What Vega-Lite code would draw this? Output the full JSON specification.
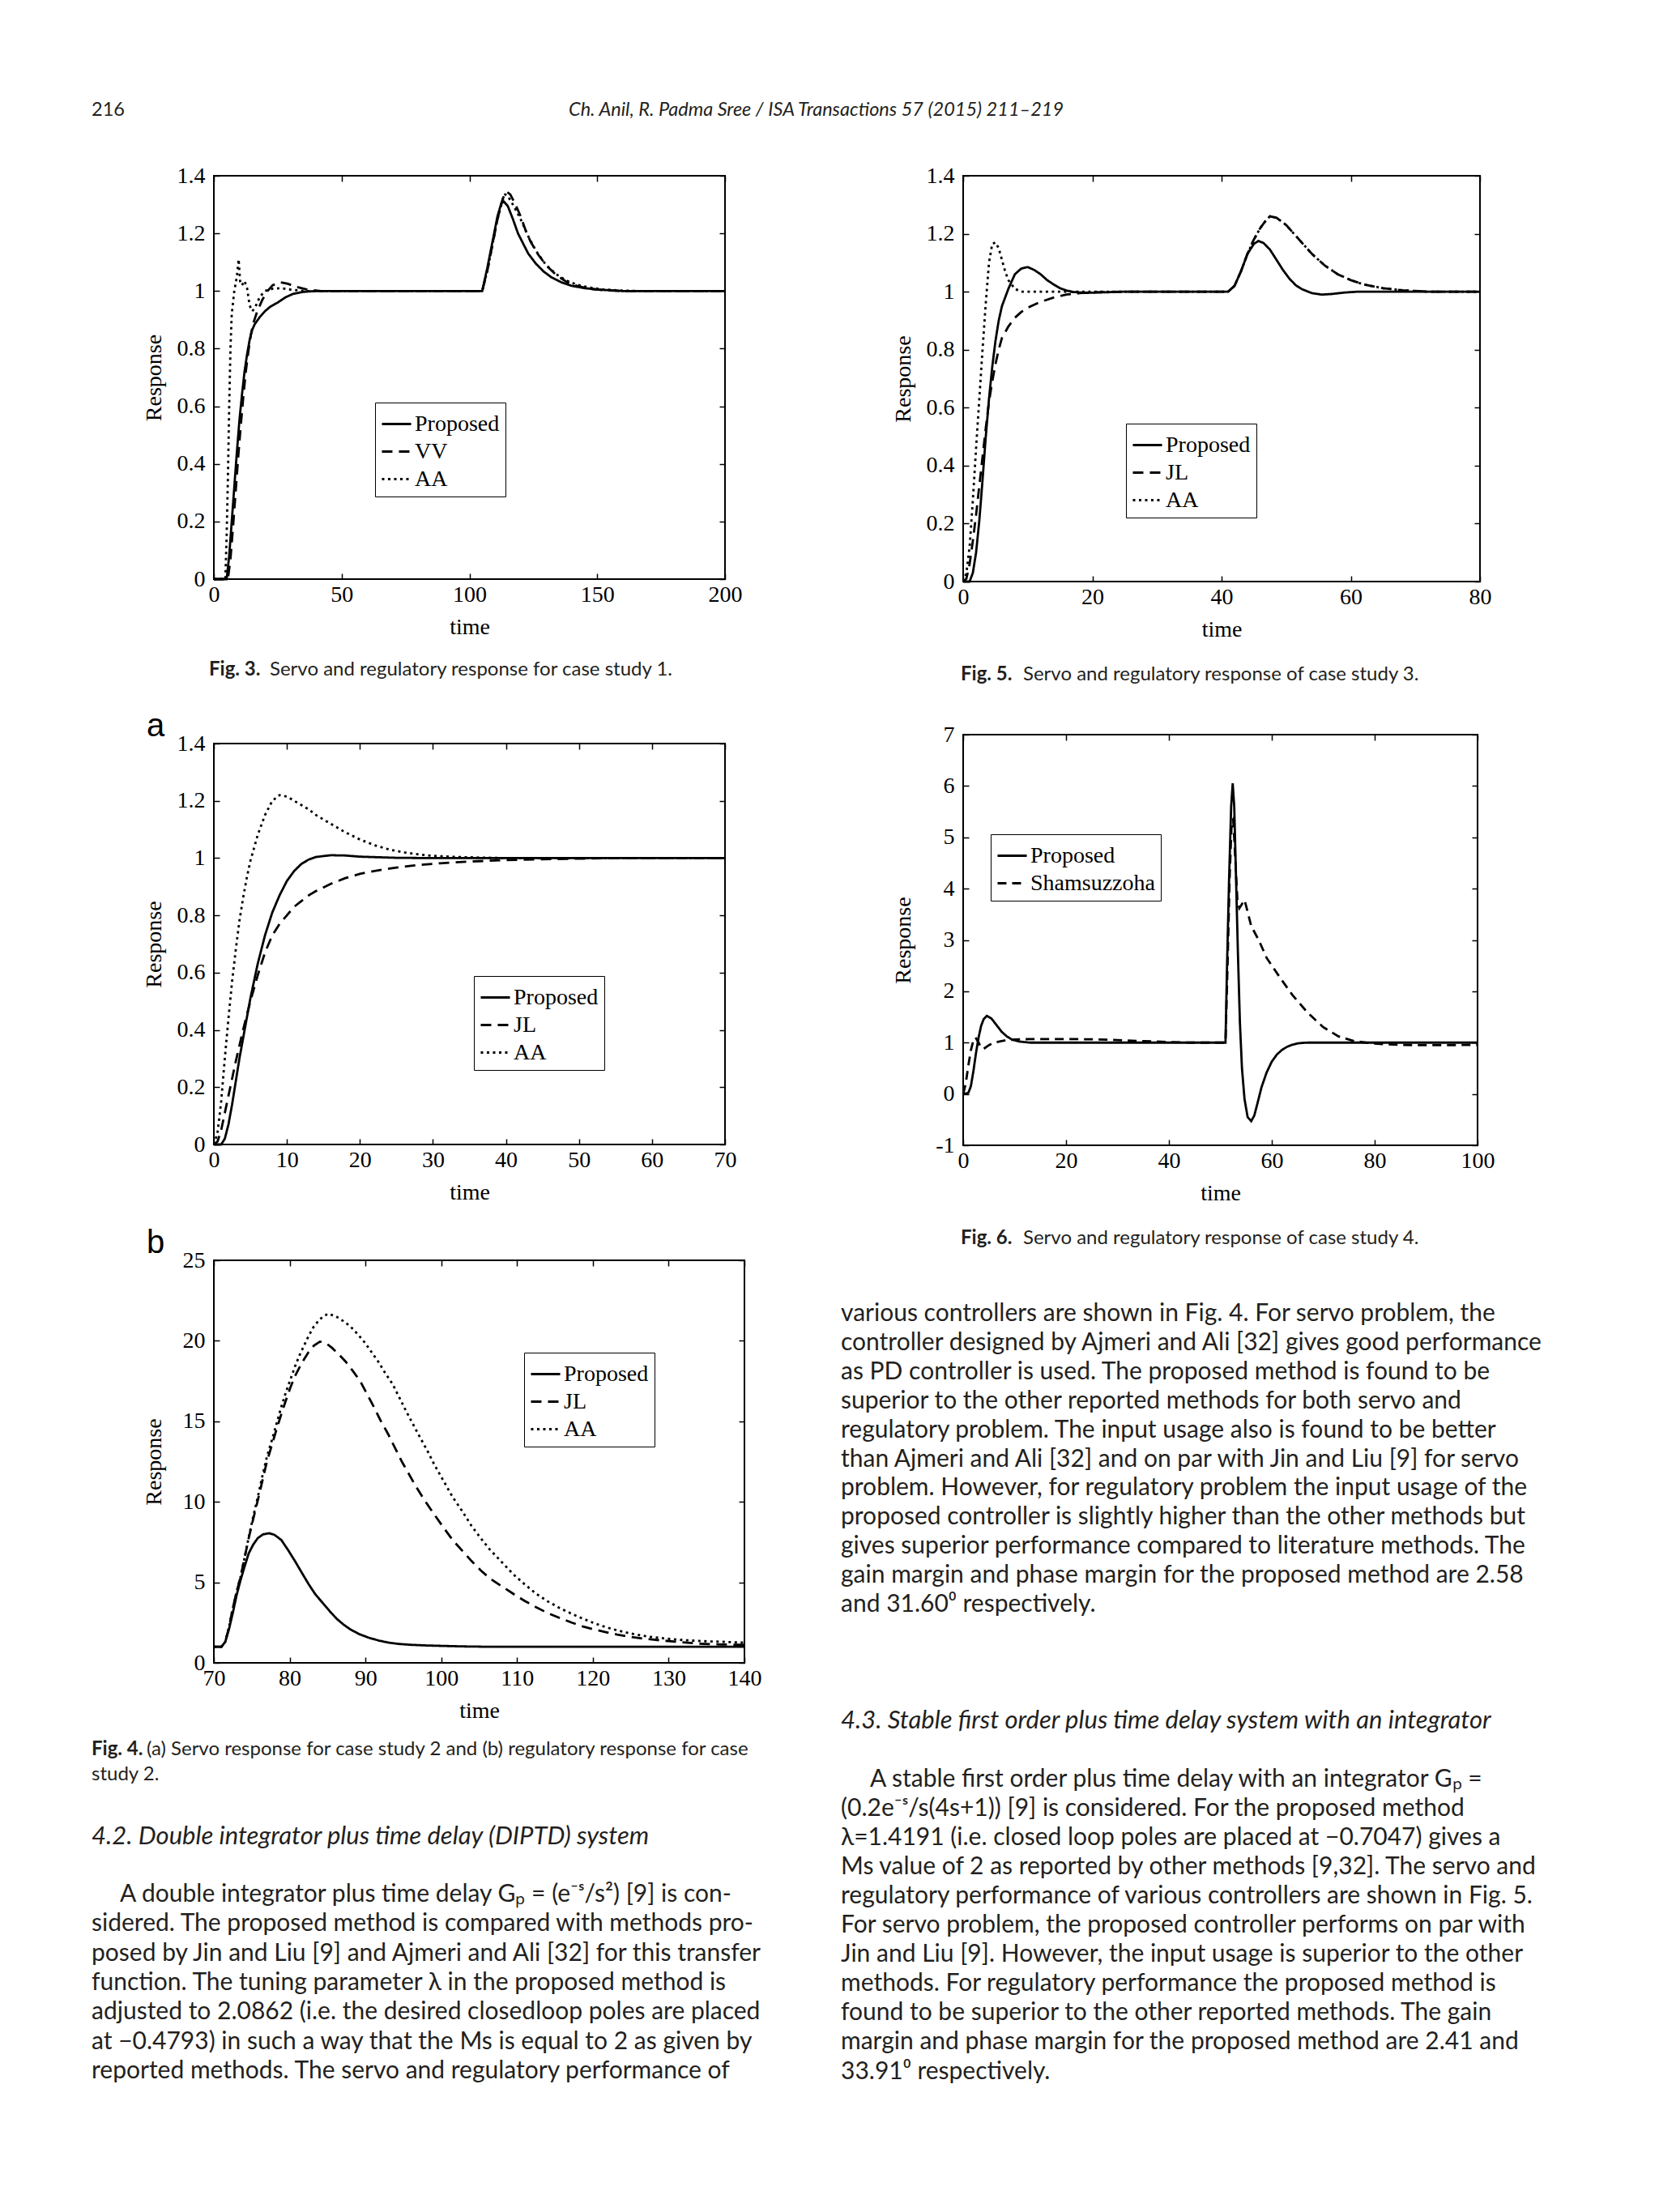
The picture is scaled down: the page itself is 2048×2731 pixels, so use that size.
{
"$schema": "https://vega.github.io/schema/vega-lite/v6.json",
"background": "white",
"padding": {"left": 113, "top": 123, "right": 20, "bottom": 20},
"config": {
 "view": {"stroke": null},
 "font": "Liberation Serif",
 "line": {"color": "black", "strokeWidth": 2.8},
 "axis": {"labelFont": "Liberation Serif", "labelFontSize": 28, "labelColor": "black", "titleFont": "Liberation Serif", "titleFontSize": 28, "titleFontWeight": "normal", "titleColor": "black", "tickColor": "black", "tickSize": -7, "tickWidth": 1.5, "domain": false, "grid": false, "labelFlush": false, "labelOverlap": false, "labelExpr": "'' + datum.value"},
 "axisX": {"labelPadding": 12, "titlePadding": 12},
 "axisY": {"labelPadding": 18, "titlePadding": 14, "minExtent": 46, "maxExtent": 46},
 "legend": {"labelFont": "Liberation Serif", "labelFontSize": 28, "labelColor": "black", "symbolType": "stroke", "symbolSize": 1300, "symbolStrokeWidth": 2.5, "symbolStrokeColor": "black", "strokeColor": "black", "fillColor": "white", "padding": 7, "rowPadding": 0, "labelOffset": 3},
 "title": {"font": "Liberation Sans", "fontSize": 40, "fontWeight": "normal", "color": "black"}
},
"datasets": {
 "fig3": [
  {"s":"Proposed","t":0,"y":0},{"s":"Proposed","t":5,"y":0},{"s":"Proposed","t":6,"y":0.08},{"s":"Proposed","t":7,"y":0.2},{"s":"Proposed","t":8,"y":0.32},{"s":"Proposed","t":9,"y":0.44},{"s":"Proposed","t":10,"y":0.55},{"s":"Proposed","t":11,"y":0.64},{"s":"Proposed","t":12,"y":0.72},{"s":"Proposed","t":13,"y":0.78},{"s":"Proposed","t":14,"y":0.83},{"s":"Proposed","t":15,"y":0.865},{"s":"Proposed","t":16,"y":0.885},{"s":"Proposed","t":18,"y":0.91},{"s":"Proposed","t":20,"y":0.93},{"s":"Proposed","t":22,"y":0.945},{"s":"Proposed","t":25,"y":0.96},{"s":"Proposed","t":28,"y":0.978},{"s":"Proposed","t":31,"y":0.99},{"s":"Proposed","t":35,"y":0.997},{"s":"Proposed","t":40,"y":1},{"s":"Proposed","t":105,"y":1},{"s":"Proposed","t":107,"y":1.08},{"s":"Proposed","t":109,"y":1.17},{"s":"Proposed","t":111,"y":1.26},{"s":"Proposed","t":112.5,"y":1.305},{"s":"Proposed","t":113.5,"y":1.31},{"s":"Proposed","t":115,"y":1.295},{"s":"Proposed","t":117,"y":1.25},{"s":"Proposed","t":119,"y":1.2},{"s":"Proposed","t":121,"y":1.165},{"s":"Proposed","t":123,"y":1.13},{"s":"Proposed","t":126,"y":1.095},{"s":"Proposed","t":129,"y":1.068},{"s":"Proposed","t":132,"y":1.048},{"s":"Proposed","t":136,"y":1.03},{"s":"Proposed","t":140,"y":1.018},{"s":"Proposed","t":145,"y":1.01},{"s":"Proposed","t":150,"y":1.005},{"s":"Proposed","t":160,"y":1},{"s":"Proposed","t":200,"y":1},
  {"s":"VV","t":0,"y":0},{"s":"VV","t":5.5,"y":0},{"s":"VV","t":6.5,"y":0.07},{"s":"VV","t":7.5,"y":0.18},{"s":"VV","t":8.5,"y":0.3},{"s":"VV","t":9.5,"y":0.42},{"s":"VV","t":10.5,"y":0.53},{"s":"VV","t":11.5,"y":0.63},{"s":"VV","t":12.5,"y":0.72},{"s":"VV","t":13.5,"y":0.79},{"s":"VV","t":14.5,"y":0.85},{"s":"VV","t":15.5,"y":0.89},{"s":"VV","t":17,"y":0.93},{"s":"VV","t":19,"y":0.97},{"s":"VV","t":21,"y":1},{"s":"VV","t":23,"y":1.02},{"s":"VV","t":26,"y":1.03},{"s":"VV","t":29,"y":1.025},{"s":"VV","t":32,"y":1.015},{"s":"VV","t":36,"y":1.006},{"s":"VV","t":42,"y":1},{"s":"VV","t":105,"y":1},{"s":"VV","t":107,"y":1.07},{"s":"VV","t":109,"y":1.16},{"s":"VV","t":111,"y":1.25},{"s":"VV","t":113,"y":1.32},{"s":"VV","t":114.5,"y":1.345},{"s":"VV","t":116,"y":1.335},{"s":"VV","t":118,"y":1.3},{"s":"VV","t":120,"y":1.26},{"s":"VV","t":122,"y":1.21},{"s":"VV","t":124,"y":1.17},{"s":"VV","t":127,"y":1.125},{"s":"VV","t":130,"y":1.09},{"s":"VV","t":134,"y":1.055},{"s":"VV","t":138,"y":1.032},{"s":"VV","t":142,"y":1.018},{"s":"VV","t":147,"y":1.008},{"s":"VV","t":152,"y":1.003},{"s":"VV","t":160,"y":1},{"s":"VV","t":200,"y":1},
  {"s":"AA","t":0,"y":0},{"s":"AA","t":4.5,"y":0},{"s":"AA","t":5,"y":0.15},{"s":"AA","t":5.5,"y":0.35},{"s":"AA","t":6,"y":0.6},{"s":"AA","t":6.5,"y":0.8},{"s":"AA","t":7,"y":0.92},{"s":"AA","t":8,"y":1},{"s":"AA","t":9,"y":1.05},{"s":"AA","t":9.7,"y":1.11},{"s":"AA","t":10.3,"y":1.03},{"s":"AA","t":11,"y":1.02},{"s":"AA","t":12,"y":1.035},{"s":"AA","t":13,"y":1.01},{"s":"AA","t":14,"y":0.95},{"s":"AA","t":15,"y":0.93},{"s":"AA","t":16,"y":0.94},{"s":"AA","t":18,"y":0.98},{"s":"AA","t":20,"y":1},{"s":"AA","t":23,"y":1.008},{"s":"AA","t":26,"y":1.01},{"s":"AA","t":30,"y":1.005},{"s":"AA","t":35,"y":1},{"s":"AA","t":105,"y":1},{"s":"AA","t":107,"y":1.07},{"s":"AA","t":109,"y":1.16},{"s":"AA","t":111,"y":1.25},{"s":"AA","t":113,"y":1.315},{"s":"AA","t":114,"y":1.335},{"s":"AA","t":115,"y":1.33},{"s":"AA","t":117,"y":1.3},{"s":"AA","t":120,"y":1.25},{"s":"AA","t":123,"y":1.19},{"s":"AA","t":126,"y":1.14},{"s":"AA","t":130,"y":1.09},{"s":"AA","t":134,"y":1.058},{"s":"AA","t":138,"y":1.036},{"s":"AA","t":142,"y":1.022},{"s":"AA","t":147,"y":1.012},{"s":"AA","t":152,"y":1.006},{"s":"AA","t":158,"y":1.002},{"s":"AA","t":165,"y":1},{"s":"AA","t":200,"y":1}
 ],
 "fig5": [
  {"s":"Proposed","t":0,"y":0},{"s":"Proposed","t":1,"y":0},{"s":"Proposed","t":1.5,"y":0.03},{"s":"Proposed","t":2,"y":0.1},{"s":"Proposed","t":2.5,"y":0.21},{"s":"Proposed","t":3,"y":0.35},{"s":"Proposed","t":3.5,"y":0.5},{"s":"Proposed","t":4,"y":0.63},{"s":"Proposed","t":4.5,"y":0.74},{"s":"Proposed","t":5,"y":0.83},{"s":"Proposed","t":5.5,"y":0.9},{"s":"Proposed","t":6,"y":0.95},{"s":"Proposed","t":7,"y":1.01},{"s":"Proposed","t":8,"y":1.06},{"s":"Proposed","t":9,"y":1.08},{"s":"Proposed","t":10,"y":1.085},{"s":"Proposed","t":11,"y":1.075},{"s":"Proposed","t":12,"y":1.06},{"s":"Proposed","t":13,"y":1.04},{"s":"Proposed","t":14,"y":1.025},{"s":"Proposed","t":15,"y":1.012},{"s":"Proposed","t":16,"y":1.004},{"s":"Proposed","t":17,"y":0.999},{"s":"Proposed","t":19,"y":0.996},{"s":"Proposed","t":22,"y":0.998},{"s":"Proposed","t":25,"y":1},{"s":"Proposed","t":41,"y":1},{"s":"Proposed","t":42,"y":1.02},{"s":"Proposed","t":43,"y":1.07},{"s":"Proposed","t":44,"y":1.13},{"s":"Proposed","t":45,"y":1.165},{"s":"Proposed","t":45.7,"y":1.175},{"s":"Proposed","t":46.5,"y":1.168},{"s":"Proposed","t":47.5,"y":1.145},{"s":"Proposed","t":48.5,"y":1.11},{"s":"Proposed","t":49.5,"y":1.075},{"s":"Proposed","t":50.5,"y":1.045},{"s":"Proposed","t":51.5,"y":1.022},{"s":"Proposed","t":52.5,"y":1.008},{"s":"Proposed","t":54,"y":0.995},{"s":"Proposed","t":55.5,"y":0.99},{"s":"Proposed","t":57,"y":0.992},{"s":"Proposed","t":59,"y":0.997},{"s":"Proposed","t":61,"y":1},{"s":"Proposed","t":80,"y":1},
  {"s":"JL","t":0,"y":0},{"s":"JL","t":0.5,"y":0.01},{"s":"JL","t":1,"y":0.06},{"s":"JL","t":1.5,"y":0.14},{"s":"JL","t":2,"y":0.23},{"s":"JL","t":2.5,"y":0.33},{"s":"JL","t":3,"y":0.43},{"s":"JL","t":3.5,"y":0.53},{"s":"JL","t":4,"y":0.62},{"s":"JL","t":4.5,"y":0.69},{"s":"JL","t":5,"y":0.75},{"s":"JL","t":5.5,"y":0.8},{"s":"JL","t":6,"y":0.84},{"s":"JL","t":7,"y":0.88},{"s":"JL","t":8,"y":0.91},{"s":"JL","t":9,"y":0.93},{"s":"JL","t":10,"y":0.945},{"s":"JL","t":12,"y":0.965},{"s":"JL","t":14,"y":0.98},{"s":"JL","t":16,"y":0.99},{"s":"JL","t":18,"y":0.995},{"s":"JL","t":20,"y":0.998},{"s":"JL","t":25,"y":1},{"s":"JL","t":41,"y":1},{"s":"JL","t":42,"y":1.02},{"s":"JL","t":43,"y":1.07},{"s":"JL","t":44,"y":1.13},{"s":"JL","t":45,"y":1.18},{"s":"JL","t":46,"y":1.22},{"s":"JL","t":47,"y":1.25},{"s":"JL","t":47.5,"y":1.26},{"s":"JL","t":48.5,"y":1.255},{"s":"JL","t":50,"y":1.23},{"s":"JL","t":52,"y":1.18},{"s":"JL","t":54,"y":1.13},{"s":"JL","t":56,"y":1.09},{"s":"JL","t":58,"y":1.06},{"s":"JL","t":60,"y":1.04},{"s":"JL","t":62,"y":1.025},{"s":"JL","t":65,"y":1.012},{"s":"JL","t":68,"y":1.005},{"s":"JL","t":72,"y":1},{"s":"JL","t":80,"y":1},
  {"s":"AA","t":0,"y":0},{"s":"AA","t":0.5,"y":0.03},{"s":"AA","t":1,"y":0.12},{"s":"AA","t":1.5,"y":0.28},{"s":"AA","t":2,"y":0.46},{"s":"AA","t":2.5,"y":0.63},{"s":"AA","t":3,"y":0.8},{"s":"AA","t":3.5,"y":0.96},{"s":"AA","t":4,"y":1.1},{"s":"AA","t":4.5,"y":1.165},{"s":"AA","t":5,"y":1.17},{"s":"AA","t":5.5,"y":1.15},{"s":"AA","t":6,"y":1.11},{"s":"AA","t":6.5,"y":1.07},{"s":"AA","t":7,"y":1.04},{"s":"AA","t":8,"y":1.01},{"s":"AA","t":9,"y":1},{"s":"AA","t":41,"y":1},{"s":"AA","t":42,"y":1.02},{"s":"AA","t":43,"y":1.07},{"s":"AA","t":44,"y":1.13},{"s":"AA","t":45,"y":1.18},{"s":"AA","t":46,"y":1.22},{"s":"AA","t":47,"y":1.25},{"s":"AA","t":47.5,"y":1.26},{"s":"AA","t":48.5,"y":1.255},{"s":"AA","t":50,"y":1.23},{"s":"AA","t":52,"y":1.18},{"s":"AA","t":54,"y":1.13},{"s":"AA","t":56,"y":1.09},{"s":"AA","t":58,"y":1.06},{"s":"AA","t":60,"y":1.04},{"s":"AA","t":62,"y":1.025},{"s":"AA","t":65,"y":1.012},{"s":"AA","t":68,"y":1.005},{"s":"AA","t":72,"y":1},{"s":"AA","t":80,"y":1}
 ],
 "fig4a": [
  {"s":"Proposed","t":0,"y":0},{"s":"Proposed","t":1,"y":0},{"s":"Proposed","t":1.5,"y":0.02},{"s":"Proposed","t":2,"y":0.07},{"s":"Proposed","t":2.5,"y":0.14},{"s":"Proposed","t":3,"y":0.22},{"s":"Proposed","t":3.5,"y":0.3},{"s":"Proposed","t":4,"y":0.37},{"s":"Proposed","t":4.5,"y":0.44},{"s":"Proposed","t":5,"y":0.51},{"s":"Proposed","t":5.5,"y":0.57},{"s":"Proposed","t":6,"y":0.63},{"s":"Proposed","t":7,"y":0.73},{"s":"Proposed","t":8,"y":0.81},{"s":"Proposed","t":9,"y":0.87},{"s":"Proposed","t":10,"y":0.92},{"s":"Proposed","t":11,"y":0.955},{"s":"Proposed","t":12,"y":0.98},{"s":"Proposed","t":13,"y":0.995},{"s":"Proposed","t":14,"y":1.004},{"s":"Proposed","t":16,"y":1.01},{"s":"Proposed","t":18,"y":1.009},{"s":"Proposed","t":20,"y":1.005},{"s":"Proposed","t":25,"y":1.001},{"s":"Proposed","t":30,"y":1},{"s":"Proposed","t":70,"y":1},
  {"s":"JL","t":0,"y":0},{"s":"JL","t":0.5,"y":0.01},{"s":"JL","t":1,"y":0.05},{"s":"JL","t":1.5,"y":0.11},{"s":"JL","t":2,"y":0.17},{"s":"JL","t":2.5,"y":0.23},{"s":"JL","t":3,"y":0.29},{"s":"JL","t":4,"y":0.4},{"s":"JL","t":5,"y":0.5},{"s":"JL","t":6,"y":0.59},{"s":"JL","t":7,"y":0.67},{"s":"JL","t":8,"y":0.73},{"s":"JL","t":9,"y":0.77},{"s":"JL","t":10,"y":0.8},{"s":"JL","t":11,"y":0.83},{"s":"JL","t":12,"y":0.85},{"s":"JL","t":13,"y":0.87},{"s":"JL","t":14,"y":0.885},{"s":"JL","t":16,"y":0.91},{"s":"JL","t":18,"y":0.93},{"s":"JL","t":20,"y":0.945},{"s":"JL","t":22,"y":0.955},{"s":"JL","t":25,"y":0.967},{"s":"JL","t":28,"y":0.976},{"s":"JL","t":31,"y":0.982},{"s":"JL","t":35,"y":0.988},{"s":"JL","t":40,"y":0.993},{"s":"JL","t":45,"y":0.996},{"s":"JL","t":50,"y":0.998},{"s":"JL","t":55,"y":1},{"s":"JL","t":70,"y":1},
  {"s":"AA","t":0,"y":0},{"s":"AA","t":0.5,"y":0.04},{"s":"AA","t":1,"y":0.15},{"s":"AA","t":1.5,"y":0.3},{"s":"AA","t":2,"y":0.44},{"s":"AA","t":2.5,"y":0.57},{"s":"AA","t":3,"y":0.68},{"s":"AA","t":3.5,"y":0.78},{"s":"AA","t":4,"y":0.86},{"s":"AA","t":4.5,"y":0.93},{"s":"AA","t":5,"y":0.99},{"s":"AA","t":6,"y":1.08},{"s":"AA","t":7,"y":1.15},{"s":"AA","t":8,"y":1.2},{"s":"AA","t":9,"y":1.22},{"s":"AA","t":10,"y":1.215},{"s":"AA","t":11,"y":1.2},{"s":"AA","t":12,"y":1.185},{"s":"AA","t":13,"y":1.17},{"s":"AA","t":14,"y":1.15},{"s":"AA","t":15,"y":1.135},{"s":"AA","t":16,"y":1.12},{"s":"AA","t":17,"y":1.105},{"s":"AA","t":18,"y":1.09},{"s":"AA","t":20,"y":1.065},{"s":"AA","t":22,"y":1.045},{"s":"AA","t":24,"y":1.03},{"s":"AA","t":26,"y":1.02},{"s":"AA","t":28,"y":1.013},{"s":"AA","t":30,"y":1.008},{"s":"AA","t":33,"y":1.004},{"s":"AA","t":36,"y":1.002},{"s":"AA","t":40,"y":1},{"s":"AA","t":70,"y":1}
 ],
 "fig6": [
  {"s":"Proposed","t":0,"y":0},{"s":"Proposed","t":1,"y":0.02},{"s":"Proposed","t":1.5,"y":0.15},{"s":"Proposed","t":2,"y":0.45},{"s":"Proposed","t":2.5,"y":0.8},{"s":"Proposed","t":3,"y":1.1},{"s":"Proposed","t":3.5,"y":1.33},{"s":"Proposed","t":4,"y":1.46},{"s":"Proposed","t":4.6,"y":1.52},{"s":"Proposed","t":5.5,"y":1.47},{"s":"Proposed","t":6.5,"y":1.34},{"s":"Proposed","t":7.5,"y":1.21},{"s":"Proposed","t":8.5,"y":1.12},{"s":"Proposed","t":9.5,"y":1.06},{"s":"Proposed","t":11,"y":1.02},{"s":"Proposed","t":13,"y":1},{"s":"Proposed","t":51,"y":1},{"s":"Proposed","t":51.3,"y":2.5},{"s":"Proposed","t":51.7,"y":4.2},{"s":"Proposed","t":52.1,"y":5.6},{"s":"Proposed","t":52.4,"y":6.05},{"s":"Proposed","t":52.7,"y":5.6},{"s":"Proposed","t":53,"y":4.4},{"s":"Proposed","t":53.4,"y":2.8},{"s":"Proposed","t":53.8,"y":1.4},{"s":"Proposed","t":54.2,"y":0.5},{"s":"Proposed","t":54.7,"y":-0.1},{"s":"Proposed","t":55.3,"y":-0.45},{"s":"Proposed","t":56,"y":-0.53},{"s":"Proposed","t":56.6,"y":-0.42},{"s":"Proposed","t":57.3,"y":-0.15},{"s":"Proposed","t":58,"y":0.13},{"s":"Proposed","t":59,"y":0.42},{"s":"Proposed","t":60,"y":0.63},{"s":"Proposed","t":61,"y":0.77},{"s":"Proposed","t":62,"y":0.86},{"s":"Proposed","t":63,"y":0.92},{"s":"Proposed","t":64,"y":0.96},{"s":"Proposed","t":65,"y":0.985},{"s":"Proposed","t":66,"y":0.995},{"s":"Proposed","t":67,"y":1},{"s":"Proposed","t":100,"y":1},
  {"s":"Shamsuzzoha","t":0,"y":0},{"s":"Shamsuzzoha","t":0.5,"y":0.2},{"s":"Shamsuzzoha","t":1,"y":0.55},{"s":"Shamsuzzoha","t":1.5,"y":0.85},{"s":"Shamsuzzoha","t":2,"y":1.05},{"s":"Shamsuzzoha","t":2.4,"y":1.1},{"s":"Shamsuzzoha","t":3,"y":1},{"s":"Shamsuzzoha","t":3.5,"y":0.9},{"s":"Shamsuzzoha","t":4,"y":0.88},{"s":"Shamsuzzoha","t":5,"y":0.95},{"s":"Shamsuzzoha","t":6,"y":1},{"s":"Shamsuzzoha","t":8,"y":1.04},{"s":"Shamsuzzoha","t":10,"y":1.06},{"s":"Shamsuzzoha","t":13,"y":1.07},{"s":"Shamsuzzoha","t":20,"y":1.07},{"s":"Shamsuzzoha","t":25,"y":1.065},{"s":"Shamsuzzoha","t":30,"y":1.05},{"s":"Shamsuzzoha","t":35,"y":1.03},{"s":"Shamsuzzoha","t":40,"y":1.01},{"s":"Shamsuzzoha","t":45,"y":1},{"s":"Shamsuzzoha","t":51,"y":1},{"s":"Shamsuzzoha","t":51.4,"y":2.5},{"s":"Shamsuzzoha","t":51.8,"y":4.2},{"s":"Shamsuzzoha","t":52.2,"y":5.3},{"s":"Shamsuzzoha","t":52.5,"y":5.35},{"s":"Shamsuzzoha","t":52.9,"y":4.6},{"s":"Shamsuzzoha","t":53.3,"y":3.8},{"s":"Shamsuzzoha","t":53.7,"y":3.62},{"s":"Shamsuzzoha","t":54.2,"y":3.7},{"s":"Shamsuzzoha","t":54.7,"y":3.78},{"s":"Shamsuzzoha","t":55.3,"y":3.55},{"s":"Shamsuzzoha","t":56,"y":3.27},{"s":"Shamsuzzoha","t":57.5,"y":2.99},{"s":"Shamsuzzoha","t":59,"y":2.65},{"s":"Shamsuzzoha","t":61.5,"y":2.28},{"s":"Shamsuzzoha","t":64,"y":1.93},{"s":"Shamsuzzoha","t":67,"y":1.58},{"s":"Shamsuzzoha","t":70,"y":1.3},{"s":"Shamsuzzoha","t":73,"y":1.12},{"s":"Shamsuzzoha","t":76,"y":1.03},{"s":"Shamsuzzoha","t":79,"y":0.99},{"s":"Shamsuzzoha","t":82,"y":0.97},{"s":"Shamsuzzoha","t":85,"y":0.955},{"s":"Shamsuzzoha","t":90,"y":0.95},{"s":"Shamsuzzoha","t":100,"y":0.955}
 ],
 "fig4b": [
  {"s":"Proposed","t":70,"y":1},{"s":"Proposed","t":71,"y":1},{"s":"Proposed","t":71.5,"y":1.3},{"s":"Proposed","t":72,"y":2.1},{"s":"Proposed","t":72.5,"y":3.1},{"s":"Proposed","t":73,"y":4.2},{"s":"Proposed","t":73.5,"y":5.1},{"s":"Proposed","t":74,"y":5.9},{"s":"Proposed","t":74.6,"y":6.8},{"s":"Proposed","t":75.2,"y":7.35},{"s":"Proposed","t":75.8,"y":7.75},{"s":"Proposed","t":76.5,"y":7.98},{"s":"Proposed","t":77.3,"y":8.05},{"s":"Proposed","t":78,"y":7.95},{"s":"Proposed","t":78.9,"y":7.63},{"s":"Proposed","t":79.8,"y":7},{"s":"Proposed","t":80.7,"y":6.32},{"s":"Proposed","t":81.6,"y":5.6},{"s":"Proposed","t":82.5,"y":4.89},{"s":"Proposed","t":83.4,"y":4.25},{"s":"Proposed","t":84.4,"y":3.7},{"s":"Proposed","t":85.3,"y":3.2},{"s":"Proposed","t":86.2,"y":2.74},{"s":"Proposed","t":87.1,"y":2.38},{"s":"Proposed","t":88,"y":2.08},{"s":"Proposed","t":89.2,"y":1.78},{"s":"Proposed","t":90.5,"y":1.55},{"s":"Proposed","t":91.8,"y":1.38},{"s":"Proposed","t":93,"y":1.26},{"s":"Proposed","t":94.5,"y":1.17},{"s":"Proposed","t":96,"y":1.12},{"s":"Proposed","t":98,"y":1.08},{"s":"Proposed","t":100.3,"y":1.05},{"s":"Proposed","t":103,"y":1.02},{"s":"Proposed","t":106,"y":1},{"s":"Proposed","t":140,"y":1},
  {"s":"JL","t":70,"y":1},{"s":"JL","t":71,"y":1},{"s":"JL","t":71.5,"y":1.3},{"s":"JL","t":72,"y":2.2},{"s":"JL","t":72.5,"y":3.4},{"s":"JL","t":73,"y":4.4},{"s":"JL","t":73.5,"y":5.3},{"s":"JL","t":74,"y":6.4},{"s":"JL","t":74.6,"y":7.75},{"s":"JL","t":75.2,"y":8.95},{"s":"JL","t":75.8,"y":10.1},{"s":"JL","t":76.4,"y":11.3},{"s":"JL","t":77,"y":12.5},{"s":"JL","t":77.7,"y":13.6},{"s":"JL","t":78.3,"y":14.55},{"s":"JL","t":78.9,"y":15.45},{"s":"JL","t":79.5,"y":16.3},{"s":"JL","t":80.1,"y":17.1},{"s":"JL","t":80.7,"y":17.8},{"s":"JL","t":81.3,"y":18.35},{"s":"JL","t":81.9,"y":18.85},{"s":"JL","t":82.5,"y":19.3},{"s":"JL","t":83.2,"y":19.7},{"s":"JL","t":84,"y":19.95},{"s":"JL","t":84.8,"y":19.85},{"s":"JL","t":85.6,"y":19.56},{"s":"JL","t":86.5,"y":19.15},{"s":"JL","t":87.4,"y":18.7},{"s":"JL","t":88.3,"y":18.15},{"s":"JL","t":89.3,"y":17.5},{"s":"JL","t":90.2,"y":16.7},{"s":"JL","t":91.1,"y":15.9},{"s":"JL","t":92,"y":15.05},{"s":"JL","t":93,"y":14.2},{"s":"JL","t":93.9,"y":13.35},{"s":"JL","t":94.8,"y":12.5},{"s":"JL","t":95.7,"y":11.75},{"s":"JL","t":96.6,"y":11},{"s":"JL","t":97.8,"y":10.1},{"s":"JL","t":99.1,"y":9.2},{"s":"JL","t":100.3,"y":8.4},{"s":"JL","t":101.5,"y":7.63},{"s":"JL","t":102.8,"y":6.95},{"s":"JL","t":104,"y":6.32},{"s":"JL","t":105.2,"y":5.75},{"s":"JL","t":106.4,"y":5.25},{"s":"JL","t":108,"y":4.75},{"s":"JL","t":109.5,"y":4.29},{"s":"JL","t":111,"y":3.85},{"s":"JL","t":112.5,"y":3.46},{"s":"JL","t":114,"y":3.1},{"s":"JL","t":115.6,"y":2.79},{"s":"JL","t":117.2,"y":2.5},{"s":"JL","t":118.7,"y":2.26},{"s":"JL","t":120.2,"y":2.07},{"s":"JL","t":121.7,"y":1.91},{"s":"JL","t":123.2,"y":1.76},{"s":"JL","t":124.8,"y":1.62},{"s":"JL","t":126.3,"y":1.53},{"s":"JL","t":127.8,"y":1.45},{"s":"JL","t":129.4,"y":1.38},{"s":"JL","t":130.9,"y":1.31},{"s":"JL","t":132.5,"y":1.25},{"s":"JL","t":134,"y":1.19},{"s":"JL","t":135.5,"y":1.16},{"s":"JL","t":137,"y":1.14},{"s":"JL","t":138.5,"y":1.13},{"s":"JL","t":140,"y":1.12},
  {"s":"AA","t":70,"y":1},{"s":"AA","t":71,"y":1},{"s":"AA","t":71.5,"y":1.3},{"s":"AA","t":72,"y":2.2},{"s":"AA","t":72.5,"y":3.4},{"s":"AA","t":73,"y":4.4},{"s":"AA","t":73.5,"y":5.3},{"s":"AA","t":74,"y":6.4},{"s":"AA","t":74.6,"y":7.8},{"s":"AA","t":75.2,"y":9.1},{"s":"AA","t":75.8,"y":10.3},{"s":"AA","t":76.4,"y":11.6},{"s":"AA","t":77,"y":12.8},{"s":"AA","t":77.7,"y":13.9},{"s":"AA","t":78.3,"y":14.9},{"s":"AA","t":78.9,"y":15.9},{"s":"AA","t":79.5,"y":16.8},{"s":"AA","t":80.1,"y":17.6},{"s":"AA","t":80.7,"y":18.4},{"s":"AA","t":81.3,"y":19.1},{"s":"AA","t":81.9,"y":19.7},{"s":"AA","t":82.5,"y":20.3},{"s":"AA","t":83.2,"y":20.9},{"s":"AA","t":84,"y":21.35},{"s":"AA","t":85,"y":21.68},{"s":"AA","t":86,"y":21.55},{"s":"AA","t":87,"y":21.25},{"s":"AA","t":88,"y":20.9},{"s":"AA","t":89,"y":20.4},{"s":"AA","t":89.9,"y":19.9},{"s":"AA","t":90.8,"y":19.3},{"s":"AA","t":91.7,"y":18.7},{"s":"AA","t":92.6,"y":18},{"s":"AA","t":93.6,"y":17.3},{"s":"AA","t":94.5,"y":16.45},{"s":"AA","t":95.4,"y":15.6},{"s":"AA","t":96.3,"y":14.8},{"s":"AA","t":97.2,"y":14},{"s":"AA","t":98.2,"y":13.15},{"s":"AA","t":99.1,"y":12.3},{"s":"AA","t":100.3,"y":11.3},{"s":"AA","t":101.5,"y":10.3},{"s":"AA","t":102.8,"y":9.4},{"s":"AA","t":104,"y":8.5},{"s":"AA","t":105.2,"y":7.75},{"s":"AA","t":106.4,"y":7.04},{"s":"AA","t":108,"y":6.25},{"s":"AA","t":109.5,"y":5.5},{"s":"AA","t":111,"y":4.88},{"s":"AA","t":112.5,"y":4.3},{"s":"AA","t":114,"y":3.83},{"s":"AA","t":115.6,"y":3.41},{"s":"AA","t":117.2,"y":3.05},{"s":"AA","t":118.7,"y":2.74},{"s":"AA","t":120.2,"y":2.46},{"s":"AA","t":121.7,"y":2.22},{"s":"AA","t":123.2,"y":2.02},{"s":"AA","t":124.8,"y":1.84},{"s":"AA","t":126.3,"y":1.71},{"s":"AA","t":127.8,"y":1.6},{"s":"AA","t":129.4,"y":1.52},{"s":"AA","t":130.9,"y":1.45},{"s":"AA","t":132.5,"y":1.4},{"s":"AA","t":134,"y":1.36},{"s":"AA","t":135.5,"y":1.33},{"s":"AA","t":137,"y":1.31},{"s":"AA","t":138.5,"y":1.28},{"s":"AA","t":140,"y":1.26}
 ]
},
"spacing": 53,
"resolve": {"scale": {"strokeDash": "independent"}, "legend": {"strokeDash": "independent"}},
"vconcat": [
 {
  "width": 1638, "height": 26,
  "layer": [
   {"data": {"values": [{"text": "216"}]},
    "mark": {"type": "text", "align": "left", "baseline": "middle", "font": "Lato", "fontSize": 23.5, "color": "#231f20"},
    "encoding": {"x": {"datum": 0, "type": "quantitative", "scale": {"domain": [0, 1], "range": [-151, 1638]}, "axis": null}, "y": {"datum": 0.5, "type": "quantitative", "scale": {"domain": [0, 1]}, "axis": null}, "text": {"field": "text"}}},
   {"data": {"values": [{"text": "Ch. Anil, R. Padma Sree / ISA Transactions 57 (2015) 211–219"}]},
    "mark": {"type": "text", "align": "center", "baseline": "middle", "font": "Lato", "fontStyle": "italic", "fontSize": 23.5, "color": "#231f20"},
    "encoding": {"x": {"datum": 0.5, "type": "quantitative", "scale": {"domain": [0, 1], "range": [-151, 1638]}, "axis": null}, "y": {"datum": 0.5, "type": "quantitative", "scale": {"domain": [0, 1]}, "axis": null}, "text": {"field": "text"}}}
  ]
 },
 {
  "spacing": 61,
  "resolve": {"scale": {"strokeDash": "independent"}, "legend": {"strokeDash": "independent"}},
  "hconcat": [
   {
    "spacing": 0,
    "resolve": {"scale": {"strokeDash": "independent"}, "legend": {"strokeDash": "independent"}},
    "vconcat": [
     {
      "width": 631, "height": 498,
      "view": {"stroke": "black", "strokeWidth": 2},
      "data": {"name": "fig3"},
      "layer": [
       {"mark": {"type": "line"},
        "encoding": {
         "x": {"field": "t", "type": "quantitative", "scale": {"domain": [0, 200], "nice": false, "zero": false}, "axis": {"values": [0, 50, 100, 150, 200], "title": "time"}},
         "y": {"field": "y", "type": "quantitative", "scale": {"domain": [0, 1.4], "nice": false, "zero": false}, "axis": {"values": [0, 0.2, 0.4, 0.6, 0.8, 1, 1.2, 1.4], "title": "Response"}},
         "strokeDash": {"field": "s", "type": "nominal", "scale": {"domain": ["Proposed", "VV", "AA"], "range": [[1, 0], [13, 8], [3, 4.5]]}, "legend": {"title": null, "orient": "none", "legendX": 199, "legendY": 280}}
        }},
       {"mark": {"type": "line", "opacity": 0},
        "encoding": {
         "x": {"field": "t", "type": "quantitative", "axis": {"orient": "top", "values": [0, 50, 100, 150, 200], "labels": false, "title": null, "minExtent": 0, "maxExtent": 0}},
         "y": {"field": "y", "type": "quantitative", "axis": {"orient": "right", "values": [0, 0.2, 0.4, 0.6, 0.8, 1, 1.2, 1.4], "labels": false, "title": null, "minExtent": 0, "maxExtent": 0}}
        }}
      ],
      "resolve": {"axis": {"x": "independent", "y": "independent"}}
     },
     {
      "width": 631, "height": 87,
      "layer": [
       {"data": {"values": [{"text": "Fig. 3."}]},
        "mark": {"type": "text", "align": "left", "baseline": "middle", "font": "Lato", "fontWeight": "bold", "fontSize": 24, "color": "#231f20"},
        "encoding": {"x": {"datum": 0, "type": "quantitative", "scale": {"domain": [0, 1], "range": [-6, 625]}, "axis": null}, "y": {"datum": 0.437, "type": "quantitative", "scale": {"domain": [0, 1], "reverse": true}, "axis": null}, "text": {"field": "text"}}},
       {"data": {"values": [{"text": "Servo and regulatory response for case study 1."}]},
        "mark": {"type": "text", "align": "left", "baseline": "middle", "font": "Lato", "fontSize": 24, "color": "#231f20", "dx": 75},
        "encoding": {"x": {"datum": 0, "type": "quantitative", "scale": {"domain": [0, 1], "range": [-6, 625]}, "axis": null}, "y": {"datum": 0.437, "type": "quantitative", "scale": {"domain": [0, 1], "reverse": true}, "axis": null}, "text": {"field": "text"}}}
      ]
     },
     {
      "spacing": 27,
      "resolve": {"scale": {"strokeDash": "independent"}, "legend": {"strokeDash": "independent"}},
      "vconcat": [
       {
        "width": 631, "height": 495,
        "title": {"text": "a", "anchor": "start", "frame": "group", "orient": "top", "dx": -83, "offset": -45, "baseline": "alphabetic"},
        "view": {"stroke": "black", "strokeWidth": 2},
        "data": {"name": "fig4a"},
        "layer": [
         {"mark": {"type": "line"},
          "encoding": {
           "x": {"field": "t", "type": "quantitative", "scale": {"domain": [0, 70], "nice": false, "zero": false}, "axis": {"values": [0, 10, 20, 30, 40, 50, 60, 70], "title": "time"}},
           "y": {"field": "y", "type": "quantitative", "scale": {"domain": [0, 1.4], "nice": false, "zero": false}, "axis": {"values": [0, 0.2, 0.4, 0.6, 0.8, 1, 1.2, 1.4], "title": "Response"}},
           "strokeDash": {"field": "s", "type": "nominal", "scale": {"domain": ["Proposed", "JL", "AA"], "range": [[1, 0], [13, 8], [3, 4.5]]}, "legend": {"title": null, "orient": "none", "legendX": 321, "legendY": 287}}
          }},
         {"mark": {"type": "line", "opacity": 0},
          "encoding": {
           "x": {"field": "t", "type": "quantitative", "axis": {"orient": "top", "values": [0, 10, 20, 30, 40, 50, 60, 70], "labels": false, "title": null, "minExtent": 0, "maxExtent": 0}},
           "y": {"field": "y", "type": "quantitative", "axis": {"orient": "right", "values": [0, 0.2, 0.4, 0.6, 0.8, 1, 1.2, 1.4], "labels": false, "title": null, "minExtent": 0, "maxExtent": 0}}
          }}
        ],
        "resolve": {"axis": {"x": "independent", "y": "independent"}}
       },
       {
        "width": 655, "height": 497,
        "title": {"text": "b", "anchor": "start", "frame": "group", "orient": "top", "dx": -83, "offset": -45, "baseline": "alphabetic"},
        "view": {"stroke": "black", "strokeWidth": 2},
        "data": {"name": "fig4b"},
        "layer": [
         {"mark": {"type": "line"},
          "encoding": {
           "x": {"field": "t", "type": "quantitative", "scale": {"domain": [70, 140], "nice": false, "zero": false}, "axis": {"values": [70, 80, 90, 100, 110, 120, 130, 140], "title": "time"}},
           "y": {"field": "y", "type": "quantitative", "scale": {"domain": [0, 25], "nice": false, "zero": false}, "axis": {"values": [0, 5, 10, 15, 20, 25], "title": "Response"}},
           "strokeDash": {"field": "s", "type": "nominal", "scale": {"domain": ["Proposed", "JL", "AA"], "range": [[1, 0], [13, 8], [3, 4.5]]}, "legend": {"title": null, "orient": "none", "legendX": 383, "legendY": 114}}
          }},
         {"mark": {"type": "line", "opacity": 0},
          "encoding": {
           "x": {"field": "t", "type": "quantitative", "axis": {"orient": "top", "values": [70, 80, 90, 100, 110, 120, 130, 140], "labels": false, "title": null, "minExtent": 0, "maxExtent": 0}},
           "y": {"field": "y", "type": "quantitative", "axis": {"orient": "right", "values": [0, 5, 10, 15, 20, 25], "labels": false, "title": null, "minExtent": 0, "maxExtent": 0}}
          }}
        ],
        "resolve": {"axis": {"x": "independent", "y": "independent"}}
       }
      ]
     },
     {
      "width": 713, "height": 107,
      "layer": [
       {"data": {"values": [{"k": 1, "text": "Fig. 4."}]},
        "mark": {"type": "text", "align": "left", "baseline": "middle", "font": "Lato", "fontWeight": "bold", "fontSize": 24, "color": "#231f20"},
        "encoding": {"x": {"datum": 0, "type": "quantitative", "scale": {"domain": [0, 1], "range": [-151, 713]}, "axis": null}, "y": {"field": "k", "type": "quantitative", "scale": {"domain": [-0.0645, 3.387], "reverse": true, "nice": false, "zero": false}, "axis": null}, "text": {"field": "text"}}},
       {"data": {"values": [{"k": 1, "text": "(a) Servo response for case study 2 and (b) regulatory response for case"}]},
        "mark": {"type": "text", "align": "left", "baseline": "middle", "font": "Lato", "fontSize": 24, "color": "#231f20", "dx": 68},
        "encoding": {"x": {"datum": 0, "type": "quantitative", "scale": {"domain": [0, 1], "range": [-151, 713]}, "axis": null}, "y": {"field": "k", "type": "quantitative", "scale": {"domain": [-0.0645, 3.387], "reverse": true, "nice": false, "zero": false}, "axis": null}, "text": {"field": "text"}}},
       {"data": {"values": [{"k": 2, "text": "study 2."}]},
        "mark": {"type": "text", "align": "left", "baseline": "middle", "font": "Lato", "fontSize": 24, "color": "#231f20"},
        "encoding": {"x": {"datum": 0, "type": "quantitative", "scale": {"domain": [0, 1], "range": [-151, 713]}, "axis": null}, "y": {"field": "k", "type": "quantitative", "scale": {"domain": [-0.0645, 3.387], "reverse": true, "nice": false, "zero": false}, "axis": null}, "text": {"field": "text"}}}
      ]
     },
     {
      "width": 713, "height": 70,
      "data": {"values": [{"text": "4.2.  Double integrator plus time delay (DIPTD) system"}]},
      "mark": {"type": "text", "align": "left", "baseline": "middle", "font": "Lato", "fontStyle": "italic", "fontSize": 31, "color": "#231f20"},
      "encoding": {"x": {"datum": 0, "type": "quantitative", "scale": {"domain": [0, 1], "range": [-151, 713]}, "axis": null}, "y": {"datum": 0.486, "type": "quantitative", "scale": {"domain": [0, 1], "reverse": true}, "axis": null}, "text": {"field": "text"}}
     },
     {
      "width": 713, "height": 260,
      "data": {"values": [
       {"k": 1, "text": "A double integrator plus time delay Gₚ = (e⁻ˢ/s²) [9] is con-"},
       {"k": 2, "text": "sidered. The proposed method is compared with methods pro-"},
       {"k": 3, "text": "posed by Jin and Liu [9] and Ajmeri and Ali [32] for this transfer"},
       {"k": 4, "text": "function. The tuning parameter λ in the proposed method is"},
       {"k": 5, "text": "adjusted to 2.0862 (i.e. the desired closedloop poles are placed"},
       {"k": 6, "text": "at −0.4793) in such a way that the Ms is equal to 2 as given by"},
       {"k": 7, "text": "reported methods. The servo and regulatory performance of"}
      ]},
      "encoding": {"x": {"datum": 0, "type": "quantitative", "scale": {"domain": [0, 1], "range": [-151, 713]}, "axis": null}, "y": {"field": "k", "type": "quantitative", "scale": {"domain": [0.0358, 7.198], "reverse": true, "nice": false, "zero": false}, "axis": null}, "text": {"field": "text"}},
      "layer": [
       {"transform": [{"filter": "datum.k == 1"}], "mark": {"type": "text", "align": "left", "baseline": "middle", "font": "Lato", "fontSize": 30, "color": "#231f20", "dx": 35}},
       {"transform": [{"filter": "datum.k > 1"}], "mark": {"type": "text", "align": "left", "baseline": "middle", "font": "Lato", "fontSize": 30, "color": "#231f20"}}
      ]
     }
    ]
   },
   {
    "spacing": 0,
    "resolve": {"scale": {"strokeDash": "independent"}, "legend": {"strokeDash": "independent"}},
    "vconcat": [
     {
      "width": 638, "height": 501,
      "view": {"stroke": "black", "strokeWidth": 2},
      "data": {"name": "fig5"},
      "layer": [
       {"mark": {"type": "line"},
        "encoding": {
         "x": {"field": "t", "type": "quantitative", "scale": {"domain": [0, 80], "nice": false, "zero": false}, "axis": {"values": [0, 20, 40, 60, 80], "title": "time"}},
         "y": {"field": "y", "type": "quantitative", "scale": {"domain": [0, 1.4], "nice": false, "zero": false}, "axis": {"values": [0, 0.2, 0.4, 0.6, 0.8, 1, 1.2, 1.4], "title": "Response"}},
         "strokeDash": {"field": "s", "type": "nominal", "scale": {"domain": ["Proposed", "JL", "AA"], "range": [[1, 0], [13, 8], [3, 4.5]]}, "legend": {"title": null, "orient": "none", "legendX": 201, "legendY": 306}}
        }},
       {"mark": {"type": "line", "opacity": 0},
        "encoding": {
         "x": {"field": "t", "type": "quantitative", "axis": {"orient": "top", "values": [0, 20, 40, 60, 80], "labels": false, "title": null, "minExtent": 0, "maxExtent": 0}},
         "y": {"field": "y", "type": "quantitative", "axis": {"orient": "right", "values": [0, 0.2, 0.4, 0.6, 0.8, 1, 1.2, 1.4], "labels": false, "title": null, "minExtent": 0, "maxExtent": 0}}
        }}
      ],
      "resolve": {"axis": {"x": "independent", "y": "independent"}}
     },
     {
      "width": 638, "height": 100,
      "layer": [
       {"data": {"values": [{"text": "Fig. 5."}]},
        "mark": {"type": "text", "align": "left", "baseline": "middle", "font": "Lato", "fontWeight": "bold", "fontSize": 24, "color": "#231f20"},
        "encoding": {"x": {"datum": 0, "type": "quantitative", "scale": {"domain": [0, 1], "range": [-3, 635]}, "axis": null}, "y": {"datum": 0.41, "type": "quantitative", "scale": {"domain": [0, 1], "reverse": true}, "axis": null}, "text": {"field": "text"}}},
       {"data": {"values": [{"text": "Servo and regulatory response of case study 3."}]},
        "mark": {"type": "text", "align": "left", "baseline": "middle", "font": "Lato", "fontSize": 24, "color": "#231f20", "dx": 77},
        "encoding": {"x": {"datum": 0, "type": "quantitative", "scale": {"domain": [0, 1], "range": [-3, 635]}, "axis": null}, "y": {"datum": 0.41, "type": "quantitative", "scale": {"domain": [0, 1], "reverse": true}, "axis": null}, "text": {"field": "text"}}}
      ]
     },
     {
      "width": 635, "height": 507,
      "view": {"stroke": "black", "strokeWidth": 2},
      "data": {"name": "fig6"},
      "layer": [
       {"mark": {"type": "line"},
        "encoding": {
         "x": {"field": "t", "type": "quantitative", "scale": {"domain": [0, 100], "nice": false, "zero": false}, "axis": {"values": [0, 20, 40, 60, 80, 100], "title": "time"}},
         "y": {"field": "y", "type": "quantitative", "scale": {"domain": [-1, 7], "nice": false, "zero": false}, "axis": {"values": [-1, 0, 1, 2, 3, 4, 5, 6, 7], "title": "Response"}},
         "strokeDash": {"field": "s", "type": "nominal", "scale": {"domain": ["Proposed", "Shamsuzzoha"], "range": [[1, 0], [11, 7]]}, "legend": {"title": null, "orient": "none", "legendX": 34, "legendY": 123}}
        }},
       {"mark": {"type": "line", "opacity": 0},
        "encoding": {
         "x": {"field": "t", "type": "quantitative", "axis": {"orient": "top", "values": [0, 20, 40, 60, 80, 100], "labels": false, "title": null, "minExtent": 0, "maxExtent": 0}},
         "y": {"field": "y", "type": "quantitative", "axis": {"orient": "right", "values": [-1, 0, 1, 2, 3, 4, 5, 6, 7], "labels": false, "title": null, "minExtent": 0, "maxExtent": 0}}
        }}
      ],
      "resolve": {"axis": {"x": "independent", "y": "independent"}}
     },
     {
      "width": 635, "height": 106,
      "layer": [
       {"data": {"values": [{"text": "Fig. 6."}]},
        "mark": {"type": "text", "align": "left", "baseline": "middle", "font": "Lato", "fontWeight": "bold", "fontSize": 24, "color": "#231f20"},
        "encoding": {"x": {"datum": 0, "type": "quantitative", "scale": {"domain": [0, 1], "range": [-3, 632]}, "axis": null}, "y": {"datum": 0.387, "type": "quantitative", "scale": {"domain": [0, 1], "reverse": true}, "axis": null}, "text": {"field": "text"}}},
       {"data": {"values": [{"text": "Servo and regulatory response of case study 4."}]},
        "mark": {"type": "text", "align": "left", "baseline": "middle", "font": "Lato", "fontSize": 24, "color": "#231f20", "dx": 77},
        "encoding": {"x": {"datum": 0, "type": "quantitative", "scale": {"domain": [0, 1], "range": [-3, 632]}, "axis": null}, "y": {"datum": 0.387, "type": "quantitative", "scale": {"domain": [0, 1], "reverse": true}, "axis": null}, "text": {"field": "text"}}}
      ]
     },
     {
      "width": 713, "height": 490,
      "data": {"values": [
       {"k": 1, "text": "various controllers are shown in Fig. 4. For servo problem, the"},
       {"k": 2, "text": "controller designed by Ajmeri and Ali [32] gives good performance"},
       {"k": 3, "text": "as PD controller is used. The proposed method is found to be"},
       {"k": 4, "text": "superior to the other reported methods for both servo and"},
       {"k": 5, "text": "regulatory problem. The input usage also is found to be better"},
       {"k": 6, "text": "than Ajmeri and Ali [32] and on par with Jin and Liu [9] for servo"},
       {"k": 7, "text": "problem. However, for regulatory problem the input usage of the"},
       {"k": 8, "text": "proposed controller is slightly higher than the other methods but"},
       {"k": 9, "text": "gives superior performance compared to literature methods. The"},
       {"k": 10, "text": "gain margin and phase margin for the proposed method are 2.58"},
       {"k": 11, "text": "and 31.60⁰ respectively."}
      ]},
      "mark": {"type": "text", "align": "left", "baseline": "middle", "font": "Lato", "fontSize": 30, "color": "#231f20"},
      "encoding": {"x": {"datum": 0, "type": "quantitative", "scale": {"domain": [0, 1], "range": [-151, 713]}, "axis": null}, "y": {"field": "k", "type": "quantitative", "scale": {"domain": [0.22, 13.869], "reverse": true, "nice": false, "zero": false}, "axis": null}, "text": {"field": "text"}}
     },
     {
      "width": 713, "height": 80,
      "data": {"values": [{"text": "4.3.  Stable first order plus time delay system with an integrator"}]},
      "mark": {"type": "text", "align": "left", "baseline": "middle", "font": "Lato", "fontStyle": "italic", "fontSize": 31, "color": "#231f20"},
      "encoding": {"x": {"datum": 0, "type": "quantitative", "scale": {"domain": [0, 1], "range": [-151, 713]}, "axis": null}, "y": {"datum": 0.5125, "type": "quantitative", "scale": {"domain": [0, 1], "reverse": true}, "axis": null}, "text": {"field": "text"}}
     },
     {
      "width": 713, "height": 420,
      "data": {"values": [
       {"k": 1, "text": "A stable first order plus time delay with an integrator Gₚ ="},
       {"k": 2, "text": "(0.2e⁻ˢ/s(4s+1)) [9] is considered. For the proposed method"},
       {"k": 3, "text": "λ=1.4191 (i.e. closed loop poles are placed at −0.7047) gives a"},
       {"k": 4, "text": "Ms value of 2 as reported by other methods [9,32]. The servo and"},
       {"k": 5, "text": "regulatory performance of various controllers are shown in Fig. 5."},
       {"k": 6, "text": "For servo problem, the proposed controller performs on par with"},
       {"k": 7, "text": "Jin and Liu [9]. However, the input usage is superior to the other"},
       {"k": 8, "text": "methods. For regulatory performance the proposed method is"},
       {"k": 9, "text": "found to be superior to the other reported methods. The gain"},
       {"k": 10, "text": "margin and phase margin for the proposed method are 2.41 and"},
       {"k": 11, "text": "33.91⁰ respectively."}
      ]},
      "encoding": {"x": {"datum": 0, "type": "quantitative", "scale": {"domain": [0, 1], "range": [-151, 713]}, "axis": null}, "y": {"field": "k", "type": "quantitative", "scale": {"domain": [0.0846, 11.735], "reverse": true, "nice": false, "zero": false}, "axis": null}, "text": {"field": "text"}},
      "layer": [
       {"transform": [{"filter": "datum.k == 1"}], "mark": {"type": "text", "align": "left", "baseline": "middle", "font": "Lato", "fontSize": 30, "color": "#231f20", "dx": 36}},
       {"transform": [{"filter": "datum.k > 1"}], "mark": {"type": "text", "align": "left", "baseline": "middle", "font": "Lato", "fontSize": 30, "color": "#231f20"}}
      ]
     }
    ]
   }
  ]
 }
]
}
